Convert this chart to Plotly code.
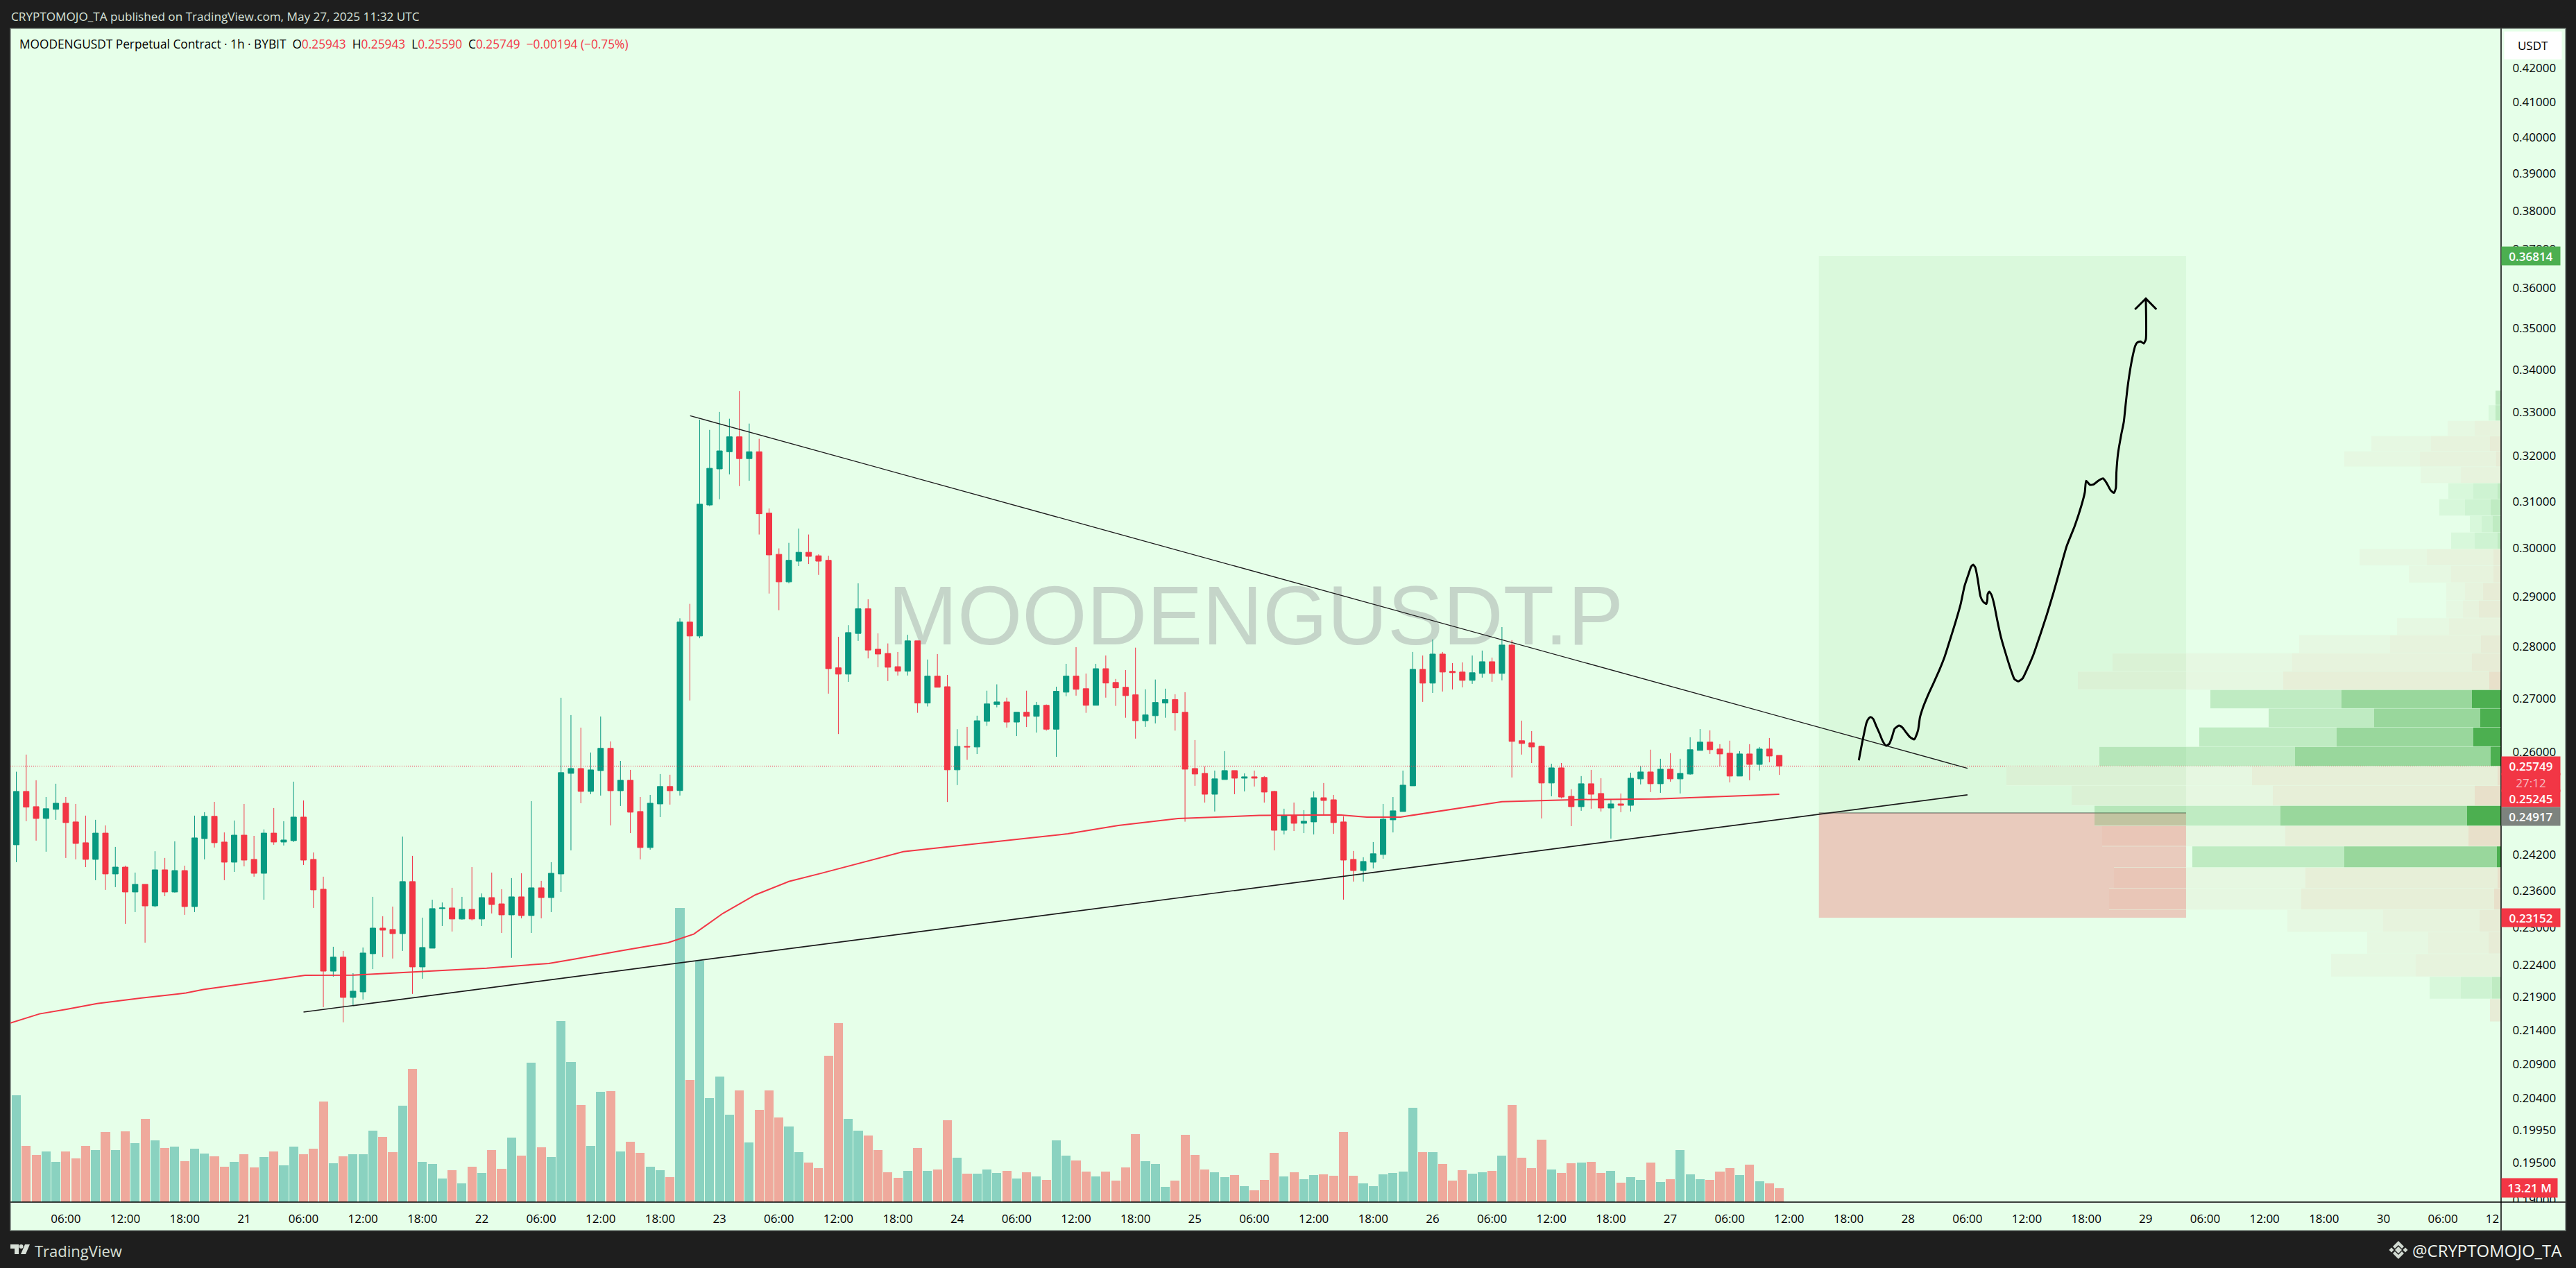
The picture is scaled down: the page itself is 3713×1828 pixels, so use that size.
import math
import pandas as pd
import plotly.graph_objects as go

W, H = 3713, 1828
PANE_L, PANE_R, PANE_T, PANE_B = 15, 3605, 41, 1733
FRAME_R, FRAME_B = 3698, 1774

BG = "#E6FFE9"
DARK = "#1E1E1E"
UP = "#089981"
DOWN = "#F23645"
UP_VOL = "#8AD2C0"
DOWN_VOL = "#EFA99C"
FONT = "Open Sans"

# Hourly MOODENGUSDT bars from 2025-05-20 01:00 UTC
opens = [
    .24367,.25296,.25027,.24821,.2498,.25087,.24761,.24402,.24119,.24567,
    .23874,.23989,.23574,.23701,.23345,.23943,.23574,.23931,.23334,.24473,
    .24858,.24414,.24072,.24532,.24119,.23885,.24567,.24414,.24438,.24845,
    .24119,.2362,.22302,.22522,.21895,.2198,.22576,.22985,.22963,.22896,
    .23747,.22368,.22664,.23301,.23312,.23132,.23289,.23132,.23482,.23379,
    .23199,.23494,.23188,.23643,.23482,.23874,.25618,.25705,.25296,.25668,
    .26071,.25308,.25494,.24942,.2432,.25075,.25383,.25311,.28484,.28207,
    .30919,.31711,.32095,.32433,.31941,.32095,.30744,.29868,.29297,.29725,
    .29911,.29838,.29743,.27585,.27463,.28258,.2875,.27947,.27864,.27607,
    .27519,.28111,.26912,.27425,.27222,.25681,.26107,.26096,.26569,.26885,
    .26933,.26555,.26739,.26663,.26869,.26423,.27118,.27425,.27184,.26869,
    .27568,.27303,.27211,.27068,.2658,.26674,.26912,.26977,.26738,.25705,
    .25618,.25246,.25507,.25668,.25531,.25556,.25544,.25296,.24616,.2487,
    .24737,.24761,.25184,.25148,.24761,.24119,.23931,.24072,.24202,.24797,
    .24942,.25395,.27556,.2729,.27852,.27516,.27503,.27343,.27476,.27703,
    .27476,.28029,.26211,.26172,.26109,.25445,.25717,.25209,.25027,.25432,
    .25259,.25003,.25075,.2505,.25519,.25643,.25432,.25693,.25519,.25606,
    .26033,.26185,.26058,.25982,.25569,.25969,.25779,.26058,.25943,
]
highs = [
    .25647,.25957,.25494,.25197,.25432,.25197,.25075,.2487,.24797,.247,
    .24331,.24013,.23897,.23701,.24257,.24143,.24426,.24013,.2487,.2493,
    .25111,.24579,.24785,.25075,.2452,.24632,.25003,.24773,.25469,.25136,
    .24237,.23828,.22686,.2262,.2227,.22675,.23494,.23177,.23334,.24508,
    .24178,.23154,.23447,.23402,.23643,.23494,.23989,.23551,.23897,.2362,
    .23805,.23885,.25124,.23759,.24072,.27012,.26686,.26452,.25995,.2666,
    .26198,.25842,.2568,.25197,.25234,.25606,.25593,.28559,.28849,.32826,
    .3259,.33003,.32846,.33486,.32734,.32387,.30844,.29993,.30109,.30413,
    .30286,.29868,.29838,.2819,.28422,.29267,.28942,.28258,.2806,.27892,
    .2823,.28111,.27745,.27852,.27447,.26423,.26466,.26674,.27146,.27267,
    .27014,.26739,.27146,.26933,.26885,.27222,.27662,.27986,.27474,.27662,
    .27824,.2737,.27541,.27977,.27173,.27359,.27184,.27079,.27117,.26223,
    .25742,.25668,.2602,.25668,.25618,.25668,.25569,.25308,.24991,.25099,
    .24966,.25296,.25445,.25234,.24858,.24261,.24155,.24414,.25075,.25196,
    .25668,.27893,.27824,.28139,.27893,.27676,.27689,.27824,.2792,.27783,
    .28384,.28125,.26582,.26388,.26122,.25792,.25804,.25333,.25569,.2568,
    .25531,.2516,.25259,.2563,.25742,.26046,.25881,.25982,.25881,.26274,
    .26426,.26401,.26147,.26211,.2602,.26147,.26096,.26261,.25943,
]
lows = [
    .24072,.24773,.24438,.24249,.24797,.24143,.24119,.23989,.2377,.23609,
    .23655,.23053,.23244,.22752,.23323,.23505,.23563,.23199,.23244,.24119,
    .2432,.2377,.23908,.24001,.23828,.23447,.24367,.24355,.24414,.24025,
    .23312,.21746,.22216,.21516,.21767,.21863,.22334,.22522,.225,.2262,
    .21949,.22184,.22664,.23019,.2293,.23121,.23109,.23019,.23222,.22907,
    .22511,.23143,.22907,.23143,.23244,.23574,.24272,.25087,.25246,.25222,
    .247,.25039,.24567,.24119,.24284,.24845,.25063,.25223,.2696,.28162,
    .30894,.31043,.3159,.31331,.31449,.30286,.29058,.28721,.29267,.29624,
    .29666,.29441,.2709,.26334,.27314,.28111,.27767,.27596,.27331,.27436,
    .27436,.26728,.26847,.27211,.25109,.25408,.25861,.25967,.26485,.26831,
    .26453,.26297,.26464,.2636,.26397,.25917,.27041,.27052,.26728,.26869,
    .27014,.26858,.26636,.26249,.26466,.26531,.26636,.26397,.24765,.25395,
    .25099,.24942,.25507,.25246,.25296,.25383,.25099,.24272,.24544,.24603,
    .24567,.24544,.2487,.24555,.23448,.23747,.23747,.23966,.2413,.24579,
    .24942,.25395,.26934,.27103,.2713,.2717,.2721,.27276,.27396,.27316,
    .27343,.25544,.25957,.25804,.24821,.25209,.25172,.24688,.24954,.24991,
    .24942,.24473,.2493,.24942,.2542,.25284,.25271,.25469,.25259,.25593,
    .26033,.25969,.25742,.25457,.25569,.25494,.25668,.25817,.2559,
]
closes = [
    .25296,.25019,.24821,.24991,.25087,.24749,.2439,.24119,.24567,.23874,
    .23989,.23574,.23701,.23345,.23943,.23574,.23931,.23334,.24485,.24858,
    .24402,.24072,.24532,.24107,.23885,.24567,.24414,.24449,.24845,.24107,
    .23609,.22302,.22522,.21895,.21991,.22587,.22985,.22952,.22896,.23747,
    .22368,.22675,.23301,.23312,.23132,.23289,.23132,.23482,.23368,.23199,
    .23494,.23188,.23643,.23482,.23885,.25631,.25705,.25296,.2568,.26071,
    .25308,.25494,.2493,.2432,.25087,.25383,.25308,.28484,.28207,.30937,
    .31724,.32114,.32433,.31941,.32095,.3073,.29856,.29297,.29743,.29911,
    .29826,.29725,.27568,.27463,.28275,.2875,.2793,.27852,.27596,.27519,
    .28111,.26912,.27425,.27211,.25681,.26107,.26096,.2658,.26896,.26933,
    .26555,.26739,.26663,.26869,.26423,.27135,.27425,.27173,.26869,.27568,
    .27292,.272,.27052,.2658,.2669,.26923,.26977,.26728,.25693,.25606,
    .25246,.25519,.25668,.25531,.25556,.25531,.25284,.24616,.2487,.24737,
    .24773,.25184,.25136,.24749,.24107,.23931,.24084,.24214,.24809,.24954,
    .25407,.27556,.2729,.27852,.27503,.2749,.27343,.2749,.27703,.27476,
    .28029,.26198,.2616,.26096,.25445,.25717,.25196,.25027,.25432,.25246,
    .25003,.25075,.2505,.25531,.25643,.25432,.25693,.25519,.25618,.26046,
    .26185,.26046,.25969,.25569,.25969,.25779,.26058,.25931,.25749,
]
volumes_m = [
    100.3,52.9,44.4,47.7,37.9,47.7,41.2,52.9,49.0,65.8,49.0,66.5,55.4,78.2,58.0,50.9,52.2,38.6,50.3,45.7,
    43.1,33.4,37.9,45.1,32.7,42.5,47.7,34.7,52.2,45.1,50.3,94.4,36.6,43.1,45.1,45.1,67.1,61.3,47.0,90.5,
    125.0,37.9,36.0,22.3,30.1,17.8,33.4,27.5,49.0,31.4,60.6,43.8,130.8,51.6,42.5,169.8,131.5,91.2,52.9,103.5,
    104.2,47.7,56.7,46.4,33.4,30.1,23.6,275.5,114.6,226.1,97.7,117.8,82.1,104.8,56.1,86.6,104.8,79.5,71.0,47.0,
    37.3,32.1,137.3,167.9,78.2,67.1,62.6,49.0,28.2,23.0,
    29.5,50.9,29.5,30.8,76.9,41.8,26.9,26.9,30.8,27.5,29.5,22.3,28.2,24.3,21.0,58.0,43.8,39.2,28.8,24.3,
    28.8,20.4,32.7,63.9,38.6,36.0,14.5,20.4,63.2,44.4,30.8,28.2,23.6,25.6,15.2,11.3,21.0,46.4,24.3,28.2,
    21.7,25.6,26.2,24.9,65.8,24.9,17.8,15.2,26.2,27.5,28.8,88.6,47.0,47.0,36.0,20.4,30.1,26.9,28.2,29.5,
    43.8,91.2,41.8,32.1,58.7,30.8,27.5,36.6,37.3,37.9,27.5,29.5,18.4,23.6,21.0,37.3,19.1,21.7,49.0,26.2,
    21.7,21.0,28.8,32.1,25.6,35.3,19.7,17.8,13.21,
]

# Moving average, sampled along its course (hours after the first bar, price)
ma_hours = [-0.6,2.35,5.08,8.16,12.64,17.13,18.88,23.78,29.17,34.08,38.56,43.04,47.49,53.76,56.42,60.91,
            65.81,68.40,71.34,74.63,78.0,81.29,89.56,97.89,106.16,111.27,117.29,125.49,133.55,136.35,
            139.75,150.0,157.64,165.7,178.0]
ma_values = [.21506,.21644,.21715,.21802,.21885,.21963,.22017,.22120,.22238,.22241,.22281,.22313,.22349,.22423,.22492,.22620,
             .22752,.22888,.23223,.23528,.23748,.23886,.24249,.24402,.24555,.247,.24821,.24873,.24882,.24845,
             .24845,.25115,.25151,.25163,.25245]

# Triangle trendlines
upper_hours, upper_prices = [68.03, 197.0], [.32915, .2571]
lower_hours, lower_prices = [29.0, 197.0], [.21672, .25234]

# Hand-drawn projection
path_hours = [186.03,186.40,186.81,187.05,187.26,187.50,187.77,188.12,188.44,188.79,189.11,189.38,189.65,190.08,190.45,
              190.83,191.20,191.63,192.01,192.20,192.49,192.95,193.62,194.15,194.69,195.23,195.76,196.30,196.70,197.10,
              197.37,197.58,197.80,198.04,198.31,198.58,198.90,199.01,199.03,199.19,199.41,199.68,200.00,200.37,200.86,
              201.34,201.74,202.14,202.57,203.05,203.70,204.34,205.01,205.68,206.35,207.02,207.83,208.50,208.85,208.98,
              209.38,209.76,210.24,210.69,211.04,211.45,211.79,211.98,212.04,212.20,212.52,212.79,212.97,213.16,213.46,
              213.72,213.94,214.15,214.47,214.80,215.01,215.01]
path_prices = [.25853,.26204,.26546,.26628,.26647,.26609,.26489,.26346,.26204,.26118,.26155,.26278,.26433,.26489,.26451,
               .26358,.26278,.26235,.26402,.26641,.26819,.27033,.2731,.27536,.27796,.28127,.28459,.28833,.29209,.29452,
               .29612,.29653,.29591,.29347,.29003,.28894,.28847,.28935,.29037,.29098,.29037,.28853,.28527,.28194,.27862,
               .27569,.27368,.27323,.27381,.27569,.27862,.28227,.28629,.29071,.29556,.30041,.30468,.30904,.31197,.31448,
               .31358,.31373,.31455,.315,.31403,.31241,.31182,.31285,.31642,.32054,.32475,.32782,.33172,.33565,.34044,
               .34365,.34568,.3465,.34675,.34625,.34725,.35723]
arrow_hours = [213.91, 215.01, 216.08]
arrow_prices = [.35462, .35731, .35462]

# Long position: entry, target, stop, and its time span
entry_price, target_price, stop_price = .24917, .36814, .23152
position_hours = [182.0, 219.07]

# Visible-range volume profile: price edges of each row and cumulative row lengths
vp_edges = [.33503,.33163,.32802,.32452,.32106,.3176,.31397,.31049,.30688,.30333,.29981,.29635,.29282,.28922,.28565,
            .28227,.27872,.27517,.27163,.2681,.26458,.26102,.25748,.25401,.25045,.24694,.24343,.23983,.23637,.23284,
            .22924,.22576,.22216,.21874,.21527]
vp_inner = [8,8,0,16,7,0,5,15,12,5,11,11,26,32,0,29,42,17,42,30,40,15,5,38,49,47,6,5,10,31,18,0,13,16]
vp_mid = [8,8,38,101,117,58,40,52,28,38,107,72,52,55,75,160,301,314,230,183,237,297,359,329,318,311,226,282,288,170,105,123,58,16]
vp_total = [8,18,77,187,226,116,76,89,45,72,204,133,79,79,150,291,560,610,419,335,435,579,713,619,586,575,445,558,565,308,193,245,103,16]
vp_tier = ["fg","fg","fb","fb","fb","fb","fg","fg","fg","fg","fb","fb","fb","fb","fb","fb","fb","sb","sg","sg","sg","sg",
           "sb","sb","sg","sb","sg","sb","sb","fb","fb","fb","fg","fb"]
vp_palette = {
    "sg": ["rgb(76,175,80)", "rgba(76,175,80,0.50)", "rgba(76,175,80,0.25)"],
    "fg": ["rgba(76,175,80,0.25)", "rgba(76,175,80,0.15)", "rgba(76,175,80,0.09)"],
    "sb": ["rgba(242,100,80,0.20)", "rgba(240,120,100,0.12)", "rgba(240,120,100,0.06)"],
    "fb": ["rgba(240,120,100,0.14)", "rgba(240,120,100,0.09)", "rgba(240,120,100,0.05)"],
}

price_ticks = [.42,.41,.40,.39,.38,.37,.36,.35,.34,.33,.32,.31,.30,.29,.28,.27,.26,.242,.236,.23,.224,.219,.214,.209,.204,.1995,.195,.19]
price_tick_text = [f"{v:.5f}" for v in price_ticks]

time_ticks = []
time_tick_text = []
for day in range(20, 31):
    for hour, label in ((0, str(day)), (6, "06:00"), (12, "12:00"), (18, "18:00")):
        if (day == 20 and hour == 0) or (day == 30 and hour > 6):
            continue
        time_ticks.append(pd.Timestamp(2025, 5, day, hour))
        time_tick_text.append(label)
# The last label is cut by the price scale, leaving only its first two digits
time_ticks.append(pd.Timestamp(2025, 5, 30, 11))
time_tick_text.append("12")

start = pd.Timestamp("2025-05-20 01:00")
times = pd.date_range(start, periods=len(opens), freq="h")


def at(hours):
    return [start + pd.Timedelta(hours=float(h)) for h in hours]


def px_to_time(x):
    return start + pd.Timedelta(hours=(x - 23.5) / 14.276)


def px(x):
    return x / W


def py(y):
    return 1 - y / H


PX_PER_HOUR_RANGE = [px_to_time(PANE_L), px_to_time(PANE_R)]
VOL_PER_PX = 13.21 / 20.33
vol_top = VOL_PER_PX * (PANE_B - PANE_T)
price_low = 0.25749 * math.exp((1104.4 - PANE_B) / 2057)
price_high = 0.25749 * math.exp((1104.4 - PANE_T) / 2057)

fig = go.Figure()

# Volume histogram on the base axes, with the symbol watermark behind the candles
fig.add_trace(go.Bar(
    x=times, y=volumes_m, width=3.3e6,
    marker=dict(color=[UP_VOL if c >= o else DOWN_VOL for o, c in zip(opens, closes)], line_width=0),
    hoverinfo="skip", xaxis="x", yaxis="y",
))
fig.add_trace(go.Scatter(
    x=[px_to_time(1810)], y=[VOL_PER_PX * (PANE_B - 899)], mode="text", text=["MOODENGUSDT.P"],
    textposition="middle center", textfont=dict(family="Liberation Sans", size=120, color="#C5D5C9"),
    hoverinfo="skip", xaxis="x", yaxis="y",
))

# Position zones
for low, high, colour in ((entry_price, target_price, "rgba(76,175,80,0.08)"),
                          (stop_price, entry_price, "rgba(242,70,75,0.28)")):
    t0, t1 = at(position_hours)
    fig.add_trace(go.Scatter(
        x=[t0, t1, t1, t0, t0], y=[low, low, high, high, low], mode="none", fill="toself",
        fillcolor=colour, hoverinfo="skip", xaxis="x", yaxis="y2",
    ))
fig.add_trace(go.Scatter(
    x=at(position_hours), y=[entry_price, entry_price], mode="lines",
    line=dict(color="rgba(30,30,30,0.7)", width=1), hoverinfo="skip", xaxis="x", yaxis="y2",
))

fig.add_trace(go.Candlestick(
    x=times, open=opens, high=highs, low=lows, close=closes,
    increasing=dict(line=dict(color=UP, width=1), fillcolor=UP),
    decreasing=dict(line=dict(color=DOWN, width=1), fillcolor=DOWN),
    whiskerwidth=0, hoverinfo="skip", xaxis="x", yaxis="y2",
))

# Last-price line
fig.add_trace(go.Scatter(
    x=PX_PER_HOUR_RANGE, y=[closes[-1], closes[-1]], mode="lines",
    line=dict(color=DOWN, width=1, dash="1px,2px"), hoverinfo="skip", xaxis="x", yaxis="y2",
))
fig.add_trace(go.Scatter(
    x=at(ma_hours), y=ma_values, mode="lines",
    line=dict(color=DOWN, width=2), hoverinfo="skip", xaxis="x", yaxis="y2",
))
for hrs, prices, width in ((upper_hours, upper_prices, 1.3), (lower_hours, lower_prices, 1.7)):
    fig.add_trace(go.Scatter(
        x=at(hrs), y=prices, mode="lines",
        line=dict(color="#1a1a1a", width=width), hoverinfo="skip", xaxis="x", yaxis="y2",
    ))
fig.add_trace(go.Scatter(
    x=at(path_hours), y=path_prices, mode="lines",
    line=dict(color="#000000", width=3, shape="spline", smoothing=0.5), hoverinfo="skip", xaxis="x", yaxis="y2",
))
fig.add_trace(go.Scatter(
    x=at(arrow_hours), y=arrow_prices, mode="lines",
    line=dict(color="#000000", width=3), hoverinfo="skip", xaxis="x", yaxis="y2",
))

# Volume profile rows, measured back from the price scale
for tier, colours in vp_palette.items():
    for seg, colour in enumerate(colours):
        xs, ys = [], []
        for k, name in enumerate(vp_tier):
            if name != tier:
                continue
            bounds = (0, vp_inner[k], vp_mid[k], vp_total[k])
            a, b = bounds[seg], bounds[seg + 1]
            if b <= a:
                continue
            lo, hi = vp_edges[k + 1], vp_edges[k]
            xs += [a, b, b, a, a, None]
            ys += [lo, lo, hi, hi, lo, None]
        if xs:
            fig.add_trace(go.Scatter(
                x=xs, y=ys, mode="none", fill="toself", fillcolor=colour,
                hoverinfo="skip", xaxis="x2", yaxis="y2",
            ))
# Hairline gaps between neighbouring profile rows
sep_x, sep_y = [], []
for k, edge in enumerate(vp_edges):
    neighbours = vp_total[max(k - 1, 0):k + 1]
    sep_x += [0, max(neighbours), None]
    sep_y += [edge, edge, None]
fig.add_trace(go.Scatter(
    x=sep_x, y=sep_y, mode="lines", line=dict(color="rgba(230,255,233,0.5)", width=1),
    hoverinfo="skip", xaxis="x2", yaxis="y2",
))


def polygon(points, colour):
    d = "M " + " L ".join(f"{px(x):.6f},{py(y):.6f}" for x, y in points) + " Z"
    return dict(type="path", xref="paper", yref="paper", path=d, fillcolor=colour, line_width=0, layer="above")


def diamond(cx, cy, r):
    return [(cx - r, cy), (cx, cy - r), (cx + r, cy), (cx, cy + r)]


shapes = [
    # Chart frame
    dict(type="rect", xref="paper", yref="paper", x0=px(PANE_L), x1=px(FRAME_R), y0=py(FRAME_B), y1=py(PANE_T),
         fillcolor=BG, line=dict(color="#75807A", width=1.5), layer="below"),
    # Patch under the bottom of the price scale
    dict(type="rect", xref="paper", yref="paper", x0=px(PANE_R + 1), x1=px(FRAME_R - 1), y0=py(FRAME_B - 1), y1=py(PANE_B),
         fillcolor=BG, line_width=0, layer="above"),
    dict(type="line", xref="paper", yref="paper", x0=px(PANE_L), x1=px(FRAME_R), y0=py(PANE_B), y1=py(PANE_B),
         line=dict(color="#000000", width=1.5), layer="above"),
    dict(type="line", xref="paper", yref="paper", x0=px(PANE_R), x1=px(PANE_R), y0=py(FRAME_B), y1=py(PANE_T),
         line=dict(color="#000000", width=1.5), layer="above"),
    # TradingView mark
    polygon([(15, 1794), (27, 1794), (27, 1808), (21, 1808), (21, 1800), (15, 1800)], "#D8E0D8"),
    dict(type="circle", xref="paper", yref="paper", x0=px(27.5), x1=px(33.5), y0=py(1800), y1=py(1794),
         fillcolor="#D8E0D8", line_width=0, layer="above"),
    polygon([(36, 1794), (43, 1794), (37, 1808), (30, 1808)], "#D8E0D8"),
    # Exchange mark beside the author handle
    polygon(diamond(3457, 1802, 5), "#D2DAD2"),
    polygon(diamond(3447, 1802, 3.5), "#D2DAD2"),
    polygon(diamond(3467, 1802, 3.5), "#D2DAD2"),
    polygon([(3457, 1789), (3465, 1797), (3462, 1800), (3457, 1795), (3452, 1800), (3449, 1797)], "#D2DAD2"),
    polygon([(3457, 1815), (3465, 1807), (3462, 1804), (3457, 1809), (3452, 1804), (3449, 1807)], "#D2DAD2"),
]


def tag(text, price, colour, height=26, yshift=0, text_colour="#FFFFFF", weight=600):
    return dict(
        xref="paper", yref="y2", x=px(3648), y=math.log10(price), yshift=yshift, xanchor="center", yanchor="middle",
        text=f'<span style="font-weight:{weight}">{text}</span>', showarrow=False, bgcolor=colour, width=84, height=height,
        borderpad=0, font=dict(family=FONT, size=17, color=text_colour),
    )


def overlay_text(text, x, y, size, colour, anchor="left"):
    return dict(xref="paper", yref="paper", x=px(x), y=py(y), xanchor=anchor, yanchor="middle", text=text,
                showarrow=False, font=dict(family=FONT, size=size, color=colour), borderpad=0)


red = f'style="color:{DOWN}"'
nb = "\u00a0"
legend_line = (
    f"MOODENGUSDT Perpetual Contract · 1h · BYBIT{nb}{nb}O<span {red}>0.25943</span>{nb}{nb}"
    f"H<span {red}>0.25943</span>{nb}{nb}L<span {red}>0.25590</span>{nb}{nb}C<span {red}>0.25749</span>{nb}{nb}"
    f"<span {red}>−0.00194 (−0.75%)</span>"
)

annotations = [
    overlay_text("CRYPTOMOJO_TA published on TradingView.com, May 27, 2025 11:32 UTC", 15, 23, 17.15, "#D8E2D8"),
    overlay_text(legend_line, 27, 63, 17.3, "#000000"),
    overlay_text("TradingView", 49, 1803, 22, "#D8E0D8"),
    overlay_text("@CRYPTOMOJO_TA", 3476, 1802, 24, "#EEF3EE"),
    dict(xref="paper", yref="paper", x=px(3651), y=py(65), xanchor="center", yanchor="middle", text="USDT",
         showarrow=False, bgcolor="#FFFFFF", width=80, height=37, font=dict(family=FONT, size=17, color="#000000")),
    tag("0.36814", target_price, "#4CAF50"),
    tag("0.25749", closes[-1], DOWN),
    tag("27:12", closes[-1], DOWN, yshift=-24, text_colour="#F6BFC4", weight=400),
    tag("0.25245", ma_values[-1], DOWN, height=24, yshift=-6),
    tag("0.24917", entry_price, "#7D837E", yshift=-5),
    tag("0.23152", stop_price, DOWN),
    dict(xref="paper", yref="y", x=px(3646), y=volumes_m[-1], yshift=0, xanchor="center", yanchor="middle",
         text='<span style="font-weight:600">13.21 M</span>', showarrow=False, bgcolor=DOWN, width=80, height=27,
         borderpad=0, font=dict(family=FONT, size=17, color="#FFFFFF")),
]

x_domain = [px(PANE_L), px(PANE_R)]
y_domain = [py(PANE_B), py(PANE_T)]

fig.update_layout(
    width=W, height=H, autosize=False, margin=dict(l=0, r=0, t=0, b=0, pad=0, autoexpand=False),
    paper_bgcolor=DARK, plot_bgcolor="rgba(0,0,0,0)", showlegend=False, boxgap=0.2, bargap=0,
    hovermode=False, shapes=shapes, annotations=annotations,
    xaxis=dict(
        type="date", domain=x_domain, range=PX_PER_HOUR_RANGE, anchor="y", showgrid=False, zeroline=False,
        showline=False, rangeslider=dict(visible=False), tickmode="array", tickvals=time_ticks, ticktext=time_tick_text,
        ticks="outside", ticklen=9, tickcolor="rgba(0,0,0,0)", tickangle=0,
        tickfont=dict(family=FONT, size=17, color="#000000"), fixedrange=True,
    ),
    xaxis2=dict(domain=x_domain, range=[PANE_R - PANE_L, 0], overlaying="x", anchor="y2", visible=False, fixedrange=True),
    yaxis=dict(domain=y_domain, range=[0, vol_top], anchor="x", visible=False, fixedrange=True),
    yaxis2=dict(
        type="log", domain=y_domain, range=[math.log10(price_low), math.log10(price_high)], overlaying="y", anchor="x",
        side="right", showgrid=False, zeroline=False, showline=False, tickmode="array", tickvals=price_ticks,
        ticktext=price_tick_text, ticks="outside", ticklen=12, tickcolor="rgba(0,0,0,0)",
        tickfont=dict(family=FONT, size=17, color="#000000"), fixedrange=True,
    ),
)

fig.write_html("out.html", config=dict(displayModeBar=False))
